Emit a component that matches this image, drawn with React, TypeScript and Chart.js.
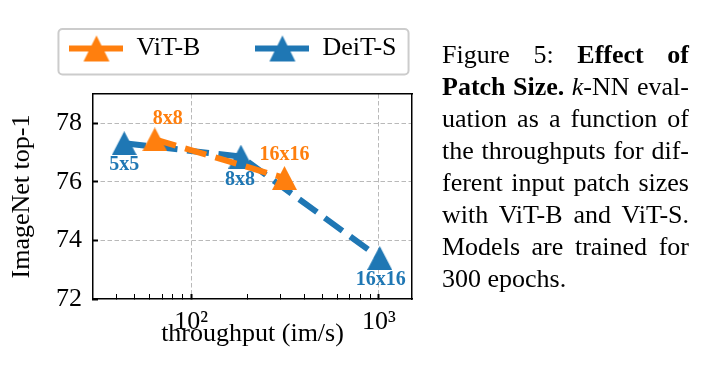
import React, { useEffect, useRef } from 'react';
import { Chart, registerables } from 'chart.js';

Chart.register(...registerables);

// ---------- data ----------
const seriesNames = ['ViT-B', 'DeiT-S'];
const vitbPatch = ['8x8', '16x16'];
const vitbThroughput = [64, 314];
const vitbTop1 = [77.45, 76.13];
const deitPatch = ['5x5', '8x8', '16x16'];
const deitThroughput = [44, 184, 1010];
const deitTop1 = [77.32, 76.86, 73.4];

const xTickValues = [40, 50, 60, 70, 80, 90, 100, 200, 300, 400, 500, 600, 700, 800, 900, 1000];
const xTickLabels: Record<number, string> = { 100: '10²', 1000: '10³' };
const yTickValues = [72, 73, 74, 75, 76, 77, 78, 79];
const yTickLabels: Record<number, string> = { 72: '72', 74: '74', 76: '76', 78: '78' };

const xTitle = 'throughput (im/s)';
const yTitle = 'ImageNet top-1';

// ---------- styles ----------
const ORANGE = '#ff7f0e';
const BLUE = '#1f77b4';
const GRID = '#b9b9b9';
const CLEAR = 'rgba(0,0,0,0)';
const FAMILY = '"Liberation Serif", "Times New Roman", serif';
const W = 728;
const H = 368;
const PLOT_LEFT = 93;
const PLOT_RIGHT = 412;
const PLOT_BOTTOM = 299;
const LEGEND_CENTER_X = 233;
const LEGEND_ITEM_Y = 48.5;
// label offsets (px) relative to each marker
const vitbLabelOffsets = [[13, -21], [0, -23]];
const deitLabelOffsets = [[0, 22], [-1, 23.5], [1, 22]];

function makeTriangle(color: string, w: number, h: number) {
  const c = document.createElement('canvas');
  c.width = w;
  c.height = h;
  const g = c.getContext('2d')!;
  g.fillStyle = color;
  g.beginPath();
  g.moveTo(w / 2, 0);
  g.lineTo(w, h);
  g.lineTo(0, h);
  g.closePath();
  g.fill();
  return c;
}

function makeLegendMark(color: string) {
  const w = 54, h = 28;
  const c = document.createElement('canvas');
  c.width = w;
  c.height = h;
  const g = c.getContext('2d')!;
  g.fillStyle = color;
  g.fillRect(0, h / 2 - 3, w, 6);
  const tw = 26, th = 26;
  const x0 = (w - tw) / 2, y0 = (h - th) / 2;
  g.beginPath();
  g.moveTo(x0 + tw / 2, y0);
  g.lineTo(x0 + tw, y0 + th);
  g.lineTo(x0, y0 + th);
  g.closePath();
  g.fill();
  return c;
}

const legendFrame = {
  id: 'legendFrame',
  afterLayout(chart: any) {
    const lg = chart.legend;
    if (!lg || !lg.lineWidths) return;
    const p = lg.options.labels.padding;
    const lw = lg.lineWidths[0];
    const itemsW = lw - p;
    const startX = LEGEND_CENTER_X - itemsW / 2;
    lg.left = -100;
    lg.right = 2 * startX - p + lw + 100;
    lg.top = LEGEND_ITEM_Y - 13 - p;
    chart.$legendBox = { x: startX - 11, y: LEGEND_ITEM_Y - 19.5, w: itemsW + 23, h: 45.5 };
  },
  beforeDraw(chart: any) {
    const b = chart.$legendBox;
    if (!b) return;
    const ctx = chart.ctx;
    ctx.save();
    ctx.fillStyle = '#ffffff';
    ctx.strokeStyle = '#cccccc';
    ctx.lineWidth = 2;
    ctx.beginPath();
    ctx.roundRect(b.x, b.y, b.w, b.h, 4);
    ctx.fill();
    ctx.stroke();
    ctx.restore();
  },
};

const pointLabels = {
  id: 'pointLabels',
  afterDatasetsDraw(chart: any) {
    const ctx = chart.ctx;
    ctx.save();
    ctx.font = `bold 20px ${FAMILY}`;
    ctx.textAlign = 'center';
    ctx.textBaseline = 'middle';
    chart.data.datasets.forEach((ds: any, di: number) => {
      const meta = chart.getDatasetMeta(di);
      meta.data.forEach((pt: any, i: number) => {
        const off = ds.labelOffsets[i];
        ctx.fillStyle = ds.borderColor;
        ctx.fillText(ds.patchLabels[i], pt.x + off[0], pt.y + off[1]);
      });
    });
    ctx.restore();
  },
};

const captionLines: React.ReactNode[] = [
  <>Figure 5: <b>Effect of</b></>,
  <><b>Patch Size.</b> <i>k</i>-NN eval-</>,
  <>uation as a function of</>,
  <>the throughputs for dif-</>,
  <>ferent input patch sizes</>,
  <>with ViT-B and ViT-S.</>,
  <>Models are trained for</>,
  <>300 epochs.</>,
];

export default function App() {
  const ref = useRef<HTMLCanvasElement | null>(null);

  useEffect(() => {
    document.body.style.margin = '0';
    const canvas = ref.current!;
    const triO = makeTriangle(ORANGE, 25, 24);
    const triB = makeTriangle(BLUE, 25, 24);
    const legendMarks = [makeLegendMark(ORANGE), makeLegendMark(BLUE)];
    const font = { family: FAMILY, size: 26 };

    const chart = new Chart(canvas, {
      type: 'line',
      data: {
        datasets: [
          {
            label: seriesNames[0],
            data: vitbThroughput.map((x, i) => ({ x, y: vitbTop1[i] })),
            borderColor: ORANGE,
            backgroundColor: ORANGE,
            borderWidth: 6,
            borderDash: [22, 9.6],
            pointStyle: triO,
            pointRadius: 12,
            pointHoverRadius: 12,
            fill: false,
            tension: 0,
            xAxisID: 'x',
            yAxisID: 'y',
            patchLabels: vitbPatch,
            labelOffsets: vitbLabelOffsets,
          } as any,
          {
            label: seriesNames[1],
            data: deitThroughput.map((x, i) => ({ x, y: deitTop1[i] })),
            borderColor: BLUE,
            backgroundColor: BLUE,
            borderWidth: 6,
            borderDash: [22, 9.6],
            pointStyle: triB,
            pointRadius: 12,
            pointHoverRadius: 12,
            fill: false,
            tension: 0,
            xAxisID: 'x',
            yAxisID: 'y',
            patchLabels: deitPatch,
            labelOffsets: deitLabelOffsets,
          } as any,
        ],
      },
      options: {
        responsive: false,
        animation: false,
        devicePixelRatio: 1,
        events: [],
        layout: { padding: { top: 3, left: 0, right: 0, bottom: 0 } },
        plugins: {
          tooltip: { enabled: false },
          title: { display: false },
          legend: {
            display: true,
            position: 'top',
            align: 'center',
            labels: {
              usePointStyle: true,
              pointStyleWidth: 54,
              padding: 55,
              color: '#000',
              font,
              generateLabels: (c: any) => {
                const items = (Chart.defaults.plugins.legend.labels.generateLabels as any)(c);
                items.forEach((it: any, i: number) => {
                  it.pointStyle = legendMarks[i];
                });
                return items;
              },
            },
          },
        },
        scales: {
          x: {
            type: 'logarithmic',
            position: 'bottom',
            min: 30,
            max: 1500,
            afterBuildTicks: (s: any) => {
              s.ticks = xTickValues.map((v) => ({ value: v }));
            },
            afterFit: (s: any) => {
              s.height = H - PLOT_BOTTOM;
            },
            ticks: {
              autoSkip: false,
              maxRotation: 0,
              minRotation: 0,
              padding: 13,
              color: '#000',
              font,
              callback: (v: any) => xTickLabels[Number(v)] ?? '',
            },
            grid: {
              color: (c: any) => (c.tick && xTickLabels[c.tick.value] ? GRID : CLEAR),
              lineWidth: 1,
              tickLength: -5,
              tickColor: '#000',
              tickWidth: (c: any) => (c.tick && xTickLabels[c.tick.value] ? 2 : 1),
            },
            border: { display: true, color: '#000', width: 1.5, dash: [4.5, 2.5] },
            title: {
              display: true,
              text: xTitle,
              color: '#000',
              font,
              padding: { top: 0, bottom: 18 },
            },
          } as any,
          y: {
            type: 'linear',
            position: 'left',
            min: 72,
            max: 79,
            afterBuildTicks: (s: any) => {
              s.ticks = yTickValues.map((v) => ({ value: v }));
            },
            afterFit: (s: any) => {
              s.width = PLOT_LEFT;
            },
            ticks: {
              padding: 16,
              color: '#000',
              font,
              callback: (v: any) => yTickLabels[Number(v)] ?? '',
            },
            grid: {
              color: (c: any) =>
                c.tick && yTickLabels[c.tick.value] && c.tick.value !== 72 ? GRID : CLEAR,
              lineWidth: 1,
              tickLength: -5,
              tickColor: (c: any) => (c.tick && c.tick.value === 79 ? CLEAR : '#000'),
              tickWidth: (c: any) => (c.tick && yTickLabels[c.tick.value] ? 2 : 1),
            },
            border: { display: true, color: '#000', width: 1.5, dash: [4.5, 2.5] },
            title: {
              display: true,
              text: yTitle,
              color: '#000',
              font,
              padding: { top: 7, bottom: 0 },
            },
          } as any,
          y2: {
            type: 'linear',
            position: 'right',
            grid: { display: false },
            ticks: { display: false },
            border: { display: true, color: '#000', width: 1.5 },
            afterFit: (s: any) => {
              s.width = W - PLOT_RIGHT;
            },
          } as any,
          x2: {
            type: 'linear',
            position: 'top',
            grid: { display: false },
            ticks: { display: false },
            border: { display: true, color: '#000', width: 1.5 },
            afterFit: (s: any) => {
              s.height = 0;
            },
          } as any,
        },
      } as any,
      plugins: [legendFrame, pointLabels],
    });
    return () => chart.destroy();
  }, []);

  return (
    <div
      style={{
        position: 'absolute',
        left: 0,
        top: 0,
        width: W,
        height: H,
        overflow: 'hidden',
        background: '#fff',
      }}
    >
      <canvas ref={ref} width={W} height={H} style={{ position: 'absolute', left: 0, top: 0, width: W, height: H }} />
      <div
        style={{
          position: 'absolute',
          left: 442,
          top: 38.5,
          width: 247,
          fontFamily: FAMILY,
          fontSize: 26,
          lineHeight: '32px',
          color: '#000',
        }}
      >
        {captionLines.map((line, i) => (
          <div
            key={i}
            style={{
              textAlign: 'justify',
              textAlignLast: i === captionLines.length - 1 ? 'left' : 'justify',
            } as any}
          >
            {line}
          </div>
        ))}
      </div>
    </div>
  );
}
